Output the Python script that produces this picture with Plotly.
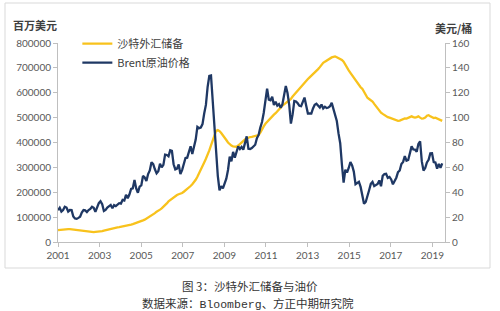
import plotly.graph_objects as go

# ---------------- data ----------------
START_YEAR = 2001
# Saudi FX reserves, billion USD (monthly, Jan 2001 - Nov 2019)
reserves_bn = [
    48, 49, 50, 50, 51, 51, 52, 52, 51, 50, 49, 48,            # 2001
    47, 46, 45, 44, 43, 42, 41, 41, 40, 40, 41, 41,            # 2002
    42, 43, 44, 46, 48, 50, 52, 53, 55, 57, 58, 59,            # 2003
    60, 61, 62, 63, 65, 67, 68, 70, 72, 74, 77, 80,            # 2004
    82, 84, 87, 90, 94, 98, 101, 105, 110, 116, 122, 128,      # 2005
    130, 135, 141, 148, 155, 163, 169, 174, 180, 185, 189, 192,  # 2006
    193, 197, 202, 207, 212, 218, 225, 232, 240, 250, 262, 275,  # 2007
    290, 305, 320, 335, 350, 368, 388, 410, 432, 447, 450, 446,  # 2008
    438, 430, 420, 410, 400, 393, 388, 384, 382, 383, 388, 395,  # 2009
    402, 408, 412, 416, 420, 422, 423, 424, 425, 426, 430, 440,  # 2010
    455, 465, 475, 483, 490, 497, 505, 512, 518, 526, 533, 540,  # 2011
    548, 553, 558, 563, 568, 575, 585, 593, 600, 610, 617, 625,  # 2012
    635, 642, 648, 655, 662, 668, 675, 682, 688, 695, 703, 712,  # 2013
    720, 725, 730, 735, 738, 742, 744, 746, 743, 740, 737, 732,  # 2014
    725, 712, 700, 690, 680, 670, 660, 650, 640, 630, 622, 616,  # 2015
    605, 590, 580, 575, 570, 565, 555, 545, 535, 527, 520, 515,  # 2016
    510, 505, 502, 500, 497, 493, 490, 488, 487, 488, 492, 496,  # 2017
    497, 496, 500, 503, 505, 502, 500, 502, 505, 500, 496, 497,  # 2018
    500, 508, 510, 505, 502, 498, 500, 497, 494, 490, 487,       # 2019
]
# Brent crude, USD/bbl (monthly, Jan 2001 - Nov 2019)
brent = [
    25.6, 27.5, 24.5, 25.7, 28.4, 27.7, 24.5, 25.7, 25.6, 20.5, 18.9, 18.6,
    19.4, 20.3, 23.7, 25.7, 25.4, 24.1, 25.7, 26.6, 28.4, 27.5, 24.2, 28.3,
    31.2, 32.8, 30.4, 25.0, 25.8, 27.6, 28.4, 29.8, 27.1, 29.6, 28.8, 29.8,
    31.2, 30.9, 33.8, 33.4, 37.9, 35.2, 38.2, 42.7, 43.2, 49.8, 43.1, 39.6,
    44.5, 45.5, 53.1, 51.9, 49.0, 54.6, 57.5, 64.1, 62.7, 58.5, 55.2, 56.9,
    63.0, 60.0, 62.0, 70.3, 70.0, 68.9, 73.7, 73.2, 62.5, 58.4, 59.0, 62.4,
    54.6, 57.8, 62.1, 67.5, 67.8, 71.9, 77.0, 70.8, 77.2, 82.3, 92.5, 91.5,
    92.0, 94.8, 103.3, 110.2, 124.6, 133.5, 133.9, 113.9, 99.1, 72.8, 53.2, 41.6,
    44.9, 43.1, 46.8, 50.9, 57.9, 68.6, 64.9, 72.5, 67.7, 73.2, 77.0, 74.7,
    76.4, 74.3, 79.3, 84.9, 75.0, 74.8, 75.6, 77.1, 78.2, 83.5, 86.1, 92.0,
    96.5, 103.7, 114.6, 123.3, 114.5, 113.9, 116.7, 110.2, 112.8, 109.6, 110.8, 107.9,
    110.7, 119.3, 125.5, 119.8, 110.3, 95.2, 102.6, 113.4, 113.0, 111.5, 109.5, 109.2,
    112.3, 116.1, 109.5, 103.3, 103.3, 103.3, 107.4, 110.3, 111.2, 109.5, 108.1, 110.6,
    107.4, 108.8, 107.7, 108.1, 109.2, 111.9, 106.9, 101.9, 97.3, 87.3, 79.4, 62.3,
    47.8, 58.1, 55.9, 59.5, 64.3, 61.5, 56.6, 46.5, 47.6, 48.4, 44.3, 38.0,
    30.7, 32.2, 38.2, 41.6, 46.7, 48.3, 44.9, 45.8, 46.6, 49.5, 44.8, 53.3,
    54.6, 54.9, 51.6, 52.3, 50.3, 46.4, 48.5, 51.7, 56.2, 57.5, 62.7, 64.4,
    69.1, 65.4, 66.0, 72.1, 76.9, 74.4, 74.3, 72.5, 78.9, 81.0, 64.8, 57.4,
    59.4, 64.0, 66.1, 71.2, 71.3, 64.2, 63.9, 59.0, 62.8, 59.7, 63.2,
]
tick_labels = ["2001", "2003", "2005", "2007", "2009", "2011", "2013", "2015", "2017", "2019"]
series_names = ["沙特外汇储备", "Brent原油价格"]

# ---------------- layout helpers ----------------
x = [START_YEAR + i / 12 for i in range(len(brent))]
reserves = [v * 1000 for v in reserves_bn]  # million USD

X_END = 2019.97
TICK_STEP = 2.039
tickvals = [START_YEAR + k * TICK_STEP for k in range(len(tick_labels))]

YELLOW = "#F8C21C"
NAVY = "#1F3864"
AXIS = "#BFBFBF"
TXT = "#595959"

fig = go.Figure()
fig.add_trace(go.Scatter(x=x, y=reserves, name=series_names[0], mode="lines",
                         line=dict(color=YELLOW, width=2.3), yaxis="y"))
fig.add_trace(go.Scatter(x=x, y=brent, name=series_names[1], mode="lines",
                         line=dict(color=NAVY, width=2.3), yaxis="y2"))

tickfont = dict(family="Lato, Open Sans, sans-serif", size=10, color=TXT)

fig.update_layout(
    width=500, height=311,
    margin=dict(l=58, r=55, t=43, b=69),
    paper_bgcolor="white", plot_bgcolor="white",
    showlegend=True,
    legend=dict(x=0.05, y=1.07, xanchor="left", yanchor="top",
                bgcolor="rgba(0,0,0,0)", borderwidth=0,
                font=dict(family="Noto Sans CJK SC", size=11, color="#404040"),
                tracegroupgap=0, itemwidth=30),
    xaxis=dict(range=[START_YEAR, X_END], tickmode="array", tickvals=tickvals,
               ticktext=tick_labels, showgrid=False, zeroline=False,
               showline=True, linecolor=AXIS, linewidth=1,
               ticks="outside", ticklen=4, tickcolor=AXIS, tickfont=tickfont),
    yaxis=dict(range=[0, 800000], dtick=100000, tickformat="d", showgrid=False,
               zeroline=False, showline=True, linecolor=AXIS, linewidth=1,
               ticks="outside", ticklen=4, tickcolor=AXIS, tickfont=tickfont),
    yaxis2=dict(range=[0, 160], dtick=20, overlaying="y", side="right",
                showgrid=False, zeroline=False, showline=True, linecolor=AXIS,
                linewidth=1, ticks="outside", ticklen=4, tickcolor=AXIS,
                tickfont=tickfont),
    font=dict(family="Noto Sans CJK SC"),
)

def px_x(p):
    return (p - 58) / 387

def px_y(p):
    return (242 - p) / 199

# outer frame
fig.add_shape(type="rect", xref="paper", yref="paper",
              x0=px_x(5), x1=px_x(490), y0=px_y(268), y1=px_y(3),
              line=dict(color="#D9D9D9", width=1), fillcolor="rgba(0,0,0,0)",
              layer="below")

def label(text, px, py, size, color):
    fig.add_annotation(text=text, xref="paper", yref="paper",
                       x=px_x(px), y=px_y(py), xanchor="center", yanchor="middle",
                       showarrow=False,
                       font=dict(family="Noto Sans CJK SC", size=size, color=color))

label("<b>百万美元</b>", 35, 25, 11, "#404040")
label("<b>美元/桶</b>", 453, 28, 11, "#404040")
label("图 3：沙特外汇储备与油价", 250, 286, 11.5, "#333333")
label("数据来源：<span style=\"font-family:'Liberation Mono'\">Bloomberg</span>、方正中期研究院",
      248, 302.5, 11.5, "#333333")

fig.write_html("out.html")
